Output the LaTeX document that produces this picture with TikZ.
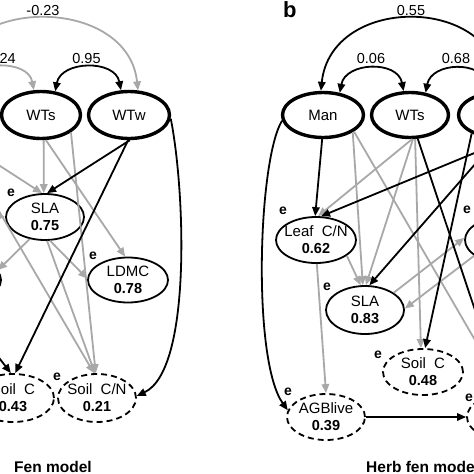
\documentclass[tikz,border=0pt]{standalone}
\usepackage{fontspec}
\setmainfont{Liberation Sans}
\usetikzlibrary{arrows.meta,shapes.geometric}
\definecolor{lgray}{RGB}{168,168,168}
\begin{document}
\begin{tikzpicture}[x=1pt,y=-1pt,
  mytri/.tip={Triangle[length=9pt,width=7.5pt]},
  base/.style={ellipse, draw, inner xsep=-14pt, inner ysep=-8pt, align=center,
    font=\fontsize{15}{17}\selectfont},
  lat/.style={base, line width=3.4pt},
  obs/.style={base, line width=1.8pt},
  dobs/.style={obs, dash pattern=on 6pt off 4pt},
  err/.style={font=\fontsize{14}{14}\selectfont\bfseries, inner sep=0pt},
  coef/.style={font=\fontsize{14.5}{15}\selectfont, inner sep=0pt, anchor=base},
  ttl/.style={font=\fontsize{15.5}{16}\selectfont\bfseries, inner sep=0pt},
  blk/.style={line width=1.8pt, black, -mytri},
  gry/.style={line width=1.8pt, lgray, -mytri},
  blk2/.style={line width=1.8pt, black, mytri-mytri},
  gry2/.style={line width=1.8pt, lgray, mytri-mytri},
  num/.style={font=\fontsize{14.5}{17}\selectfont\bfseries}
]
\useasboundingbox (0,0) rectangle (474,474);
\clip (0,0) rectangle (474,474);

% ---------------- left panel ----------------
\node[lat, minimum width=79pt, minimum height=47pt] (XL) at (-47,115) {};
\node[lat, minimum width=79pt, minimum height=47pt] (WTsL) at (41,115) {WTs};
\node[lat, minimum width=81pt, minimum height=47pt] (WTw) at (129,115) {WTw};
\node[obs, minimum width=78pt, minimum height=46pt] (SLAL) at (45,217) {SLA\\\textbf{\fontsize{14.5}{17}\selectfont 0.75}};
\node[obs, minimum width=80pt, minimum height=45pt] (LDMC) at (128,280) {LDMC\\\textbf{\fontsize{14.5}{17}\selectfont 0.78}};
\node[obs, minimum width=80pt, minimum height=45pt] (XL2) at (-39,280) {};
\node[dobs, minimum width=82pt, minimum height=48pt] (SoilCL) at (13,398) {Soil~~C\\\textbf{\fontsize{14.5}{17}\selectfont 0.43}};
\node[dobs, minimum width=78pt, minimum height=48pt] (SoilCN) at (97,398) {Soil~~C/N\\\textbf{\fontsize{14.5}{17}\selectfont 0.21}};

\node[err] (eSLAL) at (11,193) {e};
\node[err] (eLDMC) at (93,256) {e};
\node[err] (eSoilCN) at (57,377) {e};

\coordinate (cl1) at (-60,212);
\coordinate (cl2) at (-30,320);

\draw[gry2] (XL.100) .. controls +(10,-95) and +(-10,-95) .. (WTw.70);
\draw[gry2] (XL.60) .. controls +(6,-31) and +(-6,-31) .. (WTsL.106);
\draw[blk2] (WTsL.59) .. controls +(6,-31) and +(-6,-31) .. (WTw.108);
\node[coef] (cA) at (43,15) {-0.23};
\node[coef, anchor=base east] (cB) at (16,63) {0.24};
\node[coef] (cC) at (86.5,63) {0.95};

\draw[gry] (XL.285) -- (SLAL.97);
\draw[gry] (XL.280) -- (SoilCN.97);
\draw[gry] (cl1) -- (SLAL.180);
\draw[gry] (WTsL.276) -- (SLAL.93);
\draw[gry] (WTsL.281) -- (LDMC.97);
\draw[gry] (WTsL.330) -- (SoilCN.93);
\draw[gry] (SLAL.282) -- (LDMC.178);
\draw[gry] (SLAL.275) -- (SoilCN.95);
\draw[gry] (SLAL.235) -- (XL2.15);
\draw[blk] (WTw.272) -- (SLAL.85);
\draw[blk] (WTw.268) -- (SoilCL.85);
\draw[blk] (cl2) -- (SoilCL.95);
\draw[blk] (WTw.355) .. controls (185,190) and (192,370) .. (SoilCN.3);

\node[ttl] (fen) at (53,467) {Fen model};

% ---------------- right panel ----------------
\node[font=\fontsize{22}{22}\selectfont\bfseries, inner sep=0pt, anchor=base west] (lb) at (283,17) {b};

\node[lat, minimum width=81pt, minimum height=45pt] (Man) at (323,115) {Man};
\node[lat, minimum width=77pt, minimum height=45pt] (WTsR) at (410,115) {WTs};
\node[lat, minimum width=81pt, minimum height=45pt] (WTwR) at (499,115) {};
\node[obs, minimum width=80pt, minimum height=46pt] (LeafCN) at (316,240) {Leaf~~C/N\\\textbf{\fontsize{14.5}{17}\selectfont 0.62}};
\node[obs, minimum width=78pt, minimum height=48pt] (SLAR) at (365,310) {SLA\\\textbf{\fontsize{14.5}{17}\selectfont 0.83}};
\node[dobs, minimum width=80pt, minimum height=46pt] (SoilCR) at (423,372) {Soil~~C\\\textbf{\fontsize{14.5}{17}\selectfont 0.48}};
\node[dobs, minimum width=78pt, minimum height=46pt] (AGB) at (326,417) {AGBlive\\\textbf{\fontsize{14.5}{17}\selectfont 0.39}};
\node[obs, minimum width=80pt, minimum height=46pt] (R1) at (505,240) {};
\node[dobs, minimum width=80pt, minimum height=46pt] (R2) at (507,417) {};

\node[err] (eLeaf) at (283,211) {e};
\node[err] (eSLAR) at (327,287) {e};
\node[err] (eSoilCR) at (378,355) {e};
\node[err] (eAGB) at (288,392) {e};
\node[err] (eR1) at (467,210) {e};
\node[err] (eR2) at (469,398) {e};

\coordinate (offB) at (490,355);

\draw[blk2] (WTwR.85) .. controls +(-10,-96) and +(10,-96) .. (Man.95);
\draw[blk2] (Man.53) .. controls +(6,-31) and +(-6,-31) .. (WTsR.105);
\draw[blk2] (WTsR.55) .. controls +(6,-31) and +(-6,-31) .. (WTwR.115);
\node[coef] (cD) at (411,15) {0.55};
\node[coef] (cE) at (371,63) {0.06};
\node[coef] (cF) at (456,63) {0.68};

\draw[gry] (Man.330) -- (SLAR.95);
\draw[gry] (Man.332) -- (R2.93);
\draw[gry] (WTsR.275) -- (LeafCN.85);
\draw[gry] (WTsR.277) -- (SLAR.88);
\draw[gry] (WTsR.282) -- (SoilCR.95);
\draw[gry] (LeafCN.333) -- (SLAR.100);
\draw[gry] (LeafCN.272) -- (AGB.90);
\draw[gry] (SLAR.31) -- (R1.177);
\draw[gry] (R1.207) -- (SLAR.2);
\draw[blk] (Man.268) -- (LeafCN.92);
\draw[blk] (WTsR.288) -- (offB);
\draw[blk] (WTwR.295) -- (LeafCN.78);
\draw[blk] (WTwR.265) -- (SLAR.80);
\draw[blk] (WTwR.214) -- (SoilCR.85);
\draw[blk] (AGB.east) -- (R2.west);
\draw[blk] (Man.188) .. controls (258,160) and (252,360) .. (AGB.170);

\node[ttl, anchor=west] (herb) at (366,467) {Herb fen model};
\end{tikzpicture}
\end{document}
